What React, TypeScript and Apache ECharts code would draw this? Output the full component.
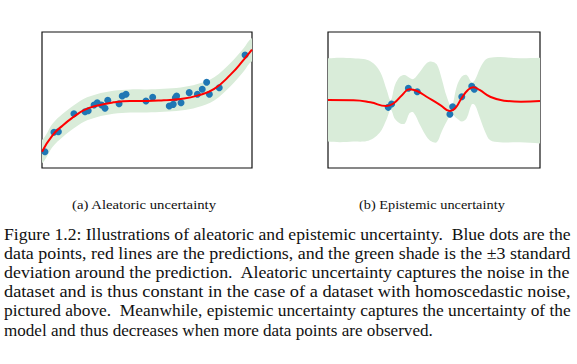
import React, { useEffect, useRef } from "react";
import * as echarts from "echarts";

// ---------- (a) Aleatoric uncertainty ----------
const aleatoricCurveX = [0, 0.5, 1, 1.5, 2, 2.6, 3.4, 4.2, 5, 5.8, 6.6, 7.4, 8.2, 9, 9.6, 10];
const aleatoricCurveY = [1.2, 2.4, 3.15, 3.75, 4.25, 4.58, 4.83, 4.93, 4.93, 4.98, 5.07, 5.32, 5.82, 6.9, 7.95, 8.7];
const aleatoricHalfWidth = 0.85; // constant ±3 std band (homoscedastic)
const aleatoricDotsX = [0.14, 0.57, 0.78, 1.52, 2.05, 2.2, 2.48, 2.63, 2.84, 3.0, 3.13, 3.67, 3.82, 4.0, 4.95, 5.27, 6.06, 6.25, 6.35, 6.41, 6.62, 7.01, 7.4, 7.63, 7.84, 7.97, 8.44, 9.67];
const aleatoricDotsY = [1.2, 2.63, 2.67, 3.99, 4.14, 4.21, 4.63, 4.8, 4.63, 4.39, 4.98, 4.73, 5.29, 5.42, 4.93, 5.2, 4.56, 4.68, 5.17, 5.29, 4.8, 5.54, 5.42, 5.79, 6.3, 5.42, 5.9, 8.31];

// ---------- (b) Epistemic uncertainty ----------
const epistemicCurveX = [0, 1.2, 2.0, 2.75, 3.1, 3.5, 3.85, 4.2, 4.65, 5.3, 5.75, 6.0, 6.3, 6.6, 6.85, 7.15, 7.65, 8.3, 9.1, 10];
const epistemicCurveY = [5.0, 4.98, 4.83, 4.56, 4.76, 5.37, 5.79, 5.66, 5.24, 4.63, 4.19, 4.39, 5.13, 5.74, 5.93, 5.74, 5.24, 4.95, 4.88, 4.93];
const epistemicBandX = [0, 0.57, 1.19, 1.67, 1.98, 2.3, 2.53, 2.77, 2.96, 3.16, 3.4, 3.63, 3.84, 4.03, 4.34, 4.65, 4.89, 5.13, 5.36, 5.6, 5.83, 6.07, 6.31, 6.54, 6.78, 6.93, 7.17, 7.41, 7.64, 8.11, 9.06, 10];
const epistemicUpper = [8.07, 8.11, 8.07, 8.01, 7.87, 7.45, 6.84, 5.74, 4.98, 6.1, 6.72, 6.84, 6.64, 6.54, 7.08, 7.7, 7.82, 7.62, 6.59, 5.25, 4.51, 5.98, 6.72, 6.84, 6.3, 6.47, 7.33, 7.94, 8.11, 8.16, 8.07, 8.11];
const epistemicLower = [1.94, 1.89, 1.94, 1.94, 2.06, 2.38, 2.79, 3.6, 4.29, 3.6, 3.28, 3.28, 4.02, 4.09, 3.16, 2.3, 1.94, 1.89, 2.67, 3.41, 3.95, 3.65, 3.41, 3.65, 4.68, 4.63, 3.65, 2.67, 2.06, 1.89, 1.89, 1.81];
const epistemicDotsX = [2.84, 3.0, 3.79, 4.21, 5.75, 5.88, 6.31, 6.78, 6.9];
const epistemicDotsY = [4.46, 4.71, 5.86, 5.61, 3.95, 4.51, 5.24, 6.01, 5.79];

// ---------- texts ----------
const subCaptions = ["(a) Aleatoric uncertainty", "(b) Epistemic uncertainty"];
const captionLines = [
  "Figure 1.2: Illustrations of aleatoric and epistemic uncertainty.  Blue dots are the",
  "data points, red lines are the predictions, and the green shade is the \u00b13 standard",
  "deviation around the prediction.  Aleatoric uncertainty captures the noise in the",
  "dataset and is thus constant in the case of a dataset with homoscedastic noise,",
  "pictured above.  Meanwhile, epistemic uncertainty captures the uncertainty of the",
  "model and thus decreases when more data points are observed.",
];

const RED = "#ff0000";
const BLUE = "#1f77b4";
const GREEN = "#d9ecd9";
const FONT_FAMILY = '"Liberation Serif", "Times New Roman", serif';

const zip = (xs: number[], ys: number[]) => xs.map((x, i) => [x, ys[i]]);

function measure(text: string, font: string): number {
  const ctx = document.createElement("canvas").getContext("2d");
  if (!ctx) return text.length * 7;
  ctx.font = font;
  return ctx.measureText(text).width;
}

function textEl(text: string, x: number, baseline: number, size: number, target: number) {
  const font = `${size}px ${FONT_FAMILY}`;
  const w = measure(text, font);
  return {
    type: "text",
    x,
    y: baseline - 0.3375 * size,
    scaleX: target / w,
    silent: true,
    style: { text, font, fill: "#111", align: "left", verticalAlign: "middle" },
  };
}

function bandSeries(idx: number, xs: number[], lower: number[], upper: number[]) {
  return {
    type: "custom",
    xAxisIndex: idx,
    yAxisIndex: idx,
    clip: true,
    silent: true,
    z: 1,
    data: [[xs[0], lower[0]]],
    renderItem: (_params: any, api: any) => {
      const up = xs.map((x, i) => api.coord([x, upper[i]]));
      const lo = xs.map((x, i) => api.coord([x, lower[i]]));
      const first = up[0][0];
      const last = up[up.length - 1][0];
      // extend horizontally past the plot edges so smoothing corners fall outside the clip
      const upExt = [[first - 8, up[0][1]], ...up, [last + 8, up[up.length - 1][1]]];
      const loExt = [[first - 8, lo[0][1]], ...lo, [last + 8, lo[lo.length - 1][1]]].reverse();
      return {
        type: "polygon",
        shape: { points: [...upExt, ...loExt], smooth: 0.35 },
        style: { fill: GREEN, stroke: null },
        silent: true,
      };
    },
  };
}

export default function App() {
  const ref = useRef<HTMLDivElement>(null);

  useEffect(() => {
    if (!ref.current) return;
    const chart = echarts.init(ref.current, undefined, { renderer: "svg" });

    const gridBase = {
      show: true,
      borderColor: "#111",
      borderWidth: 1.2,
      backgroundColor: "transparent",
      containLabel: false,
    };

    const aleLower = aleatoricCurveY.map((y) => y - aleatoricHalfWidth);
    const aleUpper = aleatoricCurveY.map((y) => y + aleatoricHalfWidth);

    const captionBaselines = [240, 259.1, 278.3, 297.4, 316.6, 335.7];
    const captionTargets = [567, 567, 567, 567, 567, 429];

    const graphics: any[] = [
      textEl(subCaptions[0], 72, 209, 12, 145),
      textEl(subCaptions[1], 359, 209, 12, 146),
      ...captionLines.map((line, i) => textEl(line, 4, captionBaselines[i], 16, captionTargets[i])),
    ];

    chart.setOption({
      animation: false,
      backgroundColor: "#ffffff",
      grid: [
        { ...gridBase, left: 42, top: 32, width: 210, height: 136 },
        { ...gridBase, left: 328, top: 32, width: 212, height: 136 },
      ],
      xAxis: [0, 1].map((i) => ({ type: "value", gridIndex: i, min: 0, max: 10, show: false })),
      yAxis: [0, 1].map((i) => ({ type: "value", gridIndex: i, min: 0, max: 10, show: false })),
      series: [
        bandSeries(0, aleatoricCurveX, aleLower, aleUpper),
        {
          type: "scatter",
          xAxisIndex: 0,
          yAxisIndex: 0,
          data: zip(aleatoricDotsX, aleatoricDotsY),
          symbolSize: 7,
          itemStyle: { color: BLUE, opacity: 1 },
          silent: true,
          z: 2,
        },
        {
          type: "line",
          xAxisIndex: 0,
          yAxisIndex: 0,
          data: zip(aleatoricCurveX, aleatoricCurveY),
          smooth: true,
          symbol: "none",
          lineStyle: { color: RED, width: 2 },
          silent: true,
          z: 3,
        },
        bandSeries(1, epistemicBandX, epistemicLower, epistemicUpper),
        {
          type: "scatter",
          xAxisIndex: 1,
          yAxisIndex: 1,
          data: zip(epistemicDotsX, epistemicDotsY),
          symbolSize: 7,
          itemStyle: { color: BLUE, opacity: 1 },
          silent: true,
          z: 2,
        },
        {
          type: "line",
          xAxisIndex: 1,
          yAxisIndex: 1,
          data: zip(epistemicCurveX, epistemicCurveY),
          smooth: true,
          symbol: "none",
          lineStyle: { color: RED, width: 2 },
          silent: true,
          z: 3,
        },
      ],
      graphic: graphics,
    });

    return () => chart.dispose();
  }, []);

  return (
    <div
      ref={ref}
      style={{ position: "absolute", left: 0, top: 0, width: 577, height: 364, background: "#fff" }}
    />
  );
}
